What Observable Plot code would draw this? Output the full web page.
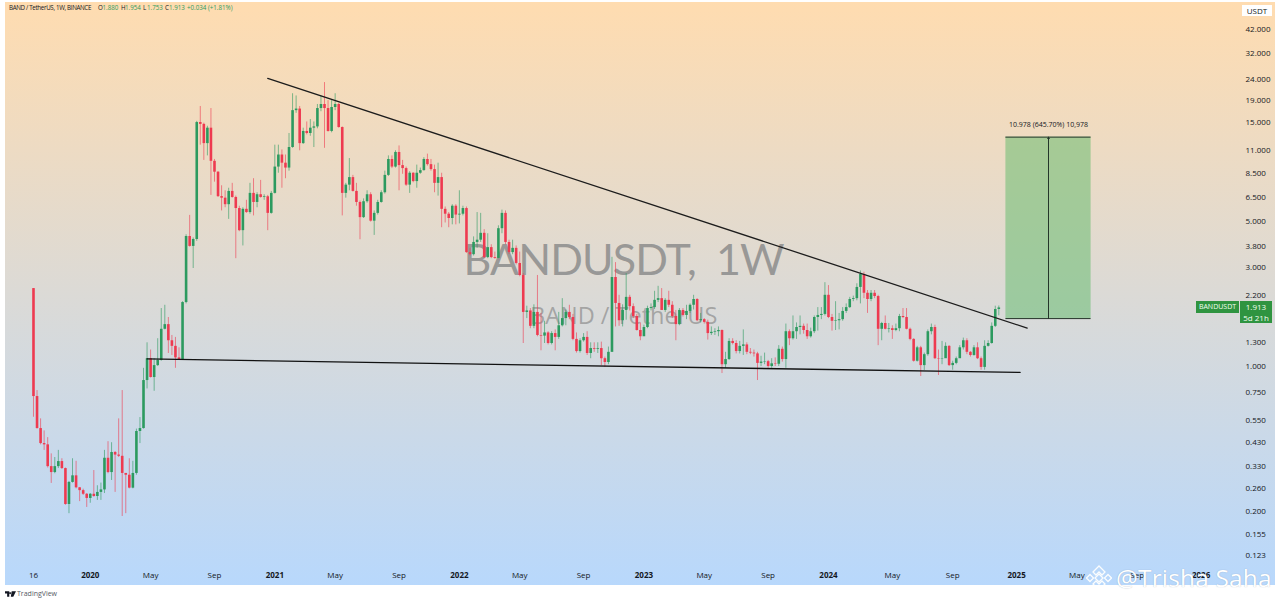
<!DOCTYPE html>
<html>
<head>
<meta charset="utf-8">
<script src="https://cdn.jsdelivr.net/npm/d3@7"></script>
<script src="https://cdn.jsdelivr.net/npm/@observablehq/plot@0.6"></script>
<style>
html,body{margin:0;padding:0;background:#fff;overflow:hidden}
#wrap{position:relative;width:1280px;height:602px;font-family:"Open Sans",sans-serif;color:#131722}
#wrap svg.overlay{position:absolute}
.lbl{position:absolute;white-space:nowrap;line-height:1}
.box{position:absolute;background:#2f9440;color:#f2fff2;font-size:8px;text-align:center;line-height:11px}
.wmBig text{white-space:pre;letter-spacing:-.9px}
</style>
</head>
<body>
<div id="wrap"></div>
<script>
// Weekly candles of BANDUSDT, first bar = week of 2019-09-16. Each open is the previous close.
const firstOpen = 2.37;
const closes = [
.717,.503,.426,.42,.33,.309,.33,.349,.323,.217,
.277,.298,.261,.253,.243,.232,.243,.237,.248,.255,
.362,.309,.386,.375,.37,.306,.30,.26,.306,.487,
.503,.856,1.09,.885,1.01,1.07,1.51,1.59,1.33,1.25,
1.10,1.08,2.03,4.22,3.78,4.08,14.9,14.6,11.8,14,
9.7,8.6,6.56,6.45,6.0,6.95,6.5,5.75,4.5,5.7,
5.5,6.8,6.15,6.7,6.5,6.55,5.45,6.8,9.1,10.4,
9.5,9.0,11.3,17,17.3,11.8,13.5,13.2,14,14.2,
17.4,18.2,17.4,13.5,17.6,18.2,14.1,6.8,7.45,8.1,
6.95,6.15,5.2,6.2,6.7,5.0,5.45,6.15,6.85,8.3,
9.9,9.1,10.7,9.25,8.95,7.45,8.5,7.75,8.5,8.75,
9.9,9.35,8.85,7.6,8.1,5.7,5.4,5.15,5.9,5.35,
5.4,5.75,3.53,3.45,3.95,4.05,4.37,3.34,3.73,3.34,
3.31,4.6,5.45,3.95,3.53,3.7,3.13,2.74,1.82,1.85,
1.56,1.82,1.41,1.40,1.45,1.29,1.44,1.38,1.57,1.70,
1.82,1.72,1.35,1.18,1.33,1.38,1.155,1.22,1.21,1.22,
1.09,1.045,1.17,2.68,2.01,1.66,1.86,2.15,1.94,1.74,
1.49,1.39,1.54,1.9,1.92,2.08,2.12,1.86,2.08,1.97,
1.74,1.59,1.86,1.76,1.84,1.97,2.1,1.66,1.68,1.63,
1.44,1.46,1.47,1.49,1.02,1.08,1.32,1.29,1.18,1.25,
1.27,1.17,1.16,1.15,1.035,1.05,1.055,1.0,1.03,1.025,
1.21,1.08,1.47,1.36,1.47,1.54,1.56,1.49,1.39,1.47,
1.72,1.76,1.78,2.2,1.72,1.65,1.66,1.68,1.84,1.92,
2.1,2.12,2.4,2.77,2.25,2.1,2.25,2.17,1.51,1.61,
1.51,1.52,1.49,1.52,1.74,1.72,1.51,1.35,1.06,1.23,
1.01,1.14,1.47,1.54,1.09,1.085,1.09,1.25,1.01,1.035,
1.09,1.23,1.33,1.17,1.13,1.23,1.09,.99,1.25,1.29,
1.56,1.88,1.913];
const highs = [
2.37,.766,.56,.49,.455,.38,.365,.395,.36,.325,
.28,.36,.35,.262,.257,.245,.245,.316,.267,.275,
.395,.435,.43,.39,.56,.766,.306,.36,.35,.5,
.568,.98,1.3,1.2,1.09,1.36,1.9,1.97,1.72,1.41,
1.38,1.23,2.05,4.3,5.33,4.15,15.1,17.8,14.8,14.3,
17.4,9.9,8.65,7.4,7.0,7.2,7.6,6.6,5.9,5.8,
6.3,7.6,8.0,6.85,7.85,6.7,6.65,6.95,11.6,11.6,
11,10.4,13.2,20.5,20,17.8,14,15,15.4,15,
18.2,20,23.2,19,19,20.5,18.4,14.2,7.6,10,
8.3,7.6,6.25,6.4,7.0,6.85,5.6,6.3,7,8.7,
10.3,10.3,10.9,11.5,9.8,9.1,8.65,8.55,9.3,9,
10.1,10.5,9.9,9.3,9.5,8.5,5.85,5.5,6,6,
7,5.9,5.85,3.7,4.2,5.5,5.45,4.55,4.35,3.85,
3.55,4.75,5.65,5.6,4.05,4.05,3.8,3.55,2.8,1.95,
1.9,1.98,2.74,1.8,1.65,1.47,1.47,1.5,1.82,2.12,
1.87,1.97,1.78,1.45,1.36,1.44,1.47,1.3,1.3,1.3,
1.31,1.11,1.24,3.35,3.16,2.2,1.98,2.8,2.2,2.0,
1.78,1.62,1.58,1.95,2.0,2.3,2.43,2.37,2.12,2.3,
2.05,1.86,1.9,1.9,1.97,2.0,2.2,2.12,1.8,1.7,
1.67,1.55,1.52,1.55,1.5,1.17,1.36,1.36,1.33,1.32,
1.5,1.3,1.22,1.2,1.17,1.12,1.16,1.07,1.09,1.1,
1.26,1.24,1.6,1.5,1.75,1.62,1.75,1.6,1.6,1.53,
1.75,1.92,1.92,2.53,2.45,1.78,2.05,1.8,1.92,2.0,
2.15,2.18,2.5,2.88,2.84,2.32,2.32,2.32,2.2,1.63,
1.75,1.61,1.57,1.6,1.78,1.9,1.9,1.53,1.36,1.25,
1.25,1.16,1.5,1.6,1.58,1.2,1.32,1.3,1.26,1.06,
1.11,1.26,1.37,1.36,1.18,1.26,1.3,1.11,1.33,1.33,
1.62,1.95,1.954];
const lows = [
.57,.5,.42,.395,.325,.274,.305,.323,.32,.215,
.196,.275,.258,.224,.24,.21,.22,.235,.227,.227,
.245,.305,.283,.248,.365,.19,.196,.258,.258,.30,
.426,.50,.78,.88,.76,1.0,1.06,1.5,1.155,1.13,
.98,1.07,1.07,2.0,3.75,2.96,4.0,11.6,9.8,10.3,
6.65,7.7,6.5,5.6,5.8,5.1,6.45,3.3,4.45,3.8,
5.45,5.4,5.3,5.8,6.45,6.3,4.5,5.4,6.75,8.5,
7.2,8.0,8.7,11.2,16.5,10.9,11.7,13,12.8,11.3,
13.9,16.8,11.2,13.4,13.3,17,14,5.3,6.45,7,
6.9,5.9,4.07,5.15,6.1,4.95,4.27,5.35,6.1,6.75,
8.2,8.95,9,7,8.4,7.35,6.8,7.65,7.2,8.4,
8.7,9.2,8.7,6.85,6.6,4.65,4.9,4.65,4.8,4.8,
4.85,5.3,3.5,3.4,3.4,3.7,3.95,3.3,3.3,3.3,
3.28,3.3,4.35,3.85,3.45,3.45,3.08,2.7,1.29,1.7,
1.52,1.52,1.39,1.19,1.29,1.27,1.27,1.19,1.35,1.55,
1.57,1.68,1.33,1.16,1.16,1.31,1.13,1.09,1.17,1.155,
1.01,.99,1.02,1.17,1.55,1.56,1.55,1.67,1.85,1.7,
1.48,1.33,1.45,1.52,1.85,1.88,2.03,1.86,1.82,1.92,
1.7,1.33,1.57,1.73,1.68,1.8,1.87,1.64,1.62,1.6,
1.34,1.41,1.41,1.39,.925,.98,1.07,1.27,1.15,1.15,
1.13,1.14,1.14,1.11,.856,1.0,1.02,.98,.98,1.0,
1.0,1.05,.98,1.26,1.34,1.35,1.42,1.43,1.35,1.37,
1.44,1.48,1.68,1.75,1.7,1.48,1.49,1.5,1.65,1.8,
1.9,2.05,2.07,2.0,2.12,1.8,2.05,2.12,1.26,1.33,
1.5,1.45,1.35,1.47,1.47,1.7,1.5,1.33,1.05,1.05,
.895,.957,1.12,1.42,1.08,.905,1.02,1.1,1.0,.96,
1.02,1.1,1.2,1.14,1.11,1.12,1.08,.96,.96,1.24,
1.28,1.54,1.753];

const yTicks = [42,32,24,19,15,11,8.5,6.5,5,3.8,3,2.2,1.3,1,.75,.55,.43,.33,.26,.2,.155,.123];
const minorDates = ["2019-09-16","2020-05-04","2020-09-07","2021-05-03","2021-09-06","2022-05-02","2022-09-05","2023-05-01","2023-09-04","2024-05-06","2024-09-02","2025-05-05","2025-09-01"];
const minorLabels = ["16","May","Sep","May","Sep","May","Sep","May","Sep","May","Sep","May","Sep"];
const yearDates = ["2020-01-06","2021-01-04","2022-01-03","2023-01-02","2024-01-01","2025-01-06","2026-01-05"];
const yearLabels = ["2020","2021","2022","2023","2024","2025","2026"];

// Drawn tools, in week number and price
const resistanceWeeks = [66,280], resistancePrices = [24.3,1.53];
const supportWeeks = [32,278], supportPrices = [1.087,0.936];
const targetWeeks = [274,298], targetPrices = [1.70,12.678], targetMidWeek = 286;
const targetLabel = "10.978 (645.70%) 10,978";
const watermarkBig = "BANDUSDT,  1W", watermarkSmall = "BAND / TetherUS";

const week = i => new Date(Date.UTC(2019, 8, 16 + 7 * i));
const parse = s => new Date(s + "T00:00:00Z");
const bars = closes.map((c, i) => ({
  t: week(i), open: i ? closes[i-1] : firstOpen, close: c, high: highs[i], low: lows[i]
}));
const UP = "#2c9a5f", DOWN = "#ee3a50";
const col = d => d.close >= d.open ? UP : DOWN;
const fmtMap = new Map(minorDates.map((d,i)=>[+parse(d),minorLabels[i]]));
const yrMap = new Map(yearDates.map((d,i)=>[+parse(d),yearLabels[i]]));

const chart = Plot.plot({
  width: 1280, height: 602,
  marginTop: 2, marginBottom: 34, marginLeft: 0, marginRight: 44,
  style: {
    background: "linear-gradient(#ffdcb0,#b8d8fc) 5px 2px / 1270px 583px no-repeat",
    fontFamily: '"Open Sans",sans-serif', color: "#131722", overflow: "visible"
  },
  x: {type: "utc", domain: [week(-8), week(339)], range: [4.6, 1236.1], axis: null},
  y: {type: "log", domain: [0.1068, 56.3], range: [568, 2], axis: null},
  marks: [
    Plot.text([watermarkBig], {x: () => week(166.3), y: () => 3.2, text: d => d, fontSize: 43, fontFamily: "Lato", fill: "#8c8c8c", fillOpacity: .85, textAnchor: "middle", lineAnchor: "middle", className: "wmBig"}),
    Plot.text([watermarkSmall], {x: () => week(166.3), y: () => 1.74, text: d => d, fontSize: 23.5, fill: "#8c8c8c", fillOpacity: .7, textAnchor: "middle", lineAnchor: "middle"}),
    Plot.ruleX(bars, {x: "t", y1: "low", y2: "high", stroke: col, strokeWidth: 1, strokeOpacity: .6}),
    Plot.ruleX(bars, {x: "t", y1: "open", y2: "close", stroke: col, strokeWidth: 2.6}),
    Plot.rect([0], {x1: () => week(targetWeeks[0]), x2: () => week(targetWeeks[1]), y1: () => targetPrices[0], y2: () => targetPrices[1], fill: "#5eba68", fillOpacity: .5}),
    Plot.ruleY(targetPrices, {x1: () => week(targetWeeks[0]), x2: () => week(targetWeeks[1]), y: d => d, stroke: "#24352a", strokeWidth: 1}),
    Plot.arrow([0], {x: () => week(targetMidWeek), y1: () => targetPrices[0], y2: () => targetPrices[1], stroke: "#24352a", strokeWidth: 1, headLength: 2.5, bend: 0}),
    Plot.text([targetLabel], {x: () => week(targetMidWeek), y: () => targetPrices[1], text: d => d, dy: -12, fontSize: 7, fill: "#131722", textAnchor: "middle"}),
    Plot.line(resistanceWeeks.map((w,i)=>({t: week(w), p: resistancePrices[i]})), {x: "t", y: "p", stroke: "#1c1c1c", strokeWidth: 1.3}),
    Plot.line(supportWeeks.map((w,i)=>({t: week(w), p: supportPrices[i]})), {x: "t", y: "p", stroke: "#111", strokeWidth: 1.3}),
    Plot.text(yTicks, {y: d => d, text: d => d.toFixed(3), frameAnchor: "right", dx: 9, textAnchor: "start", fontSize: 8, fill: "#131722"}),
    Plot.axisX(minorDates.map(parse), {anchor: "bottom", tickSize: 0, tickPadding: 4, tickFormat: d => fmtMap.get(+d), fontSize: 8, label: null, fill: "#131722"}),
    Plot.axisX(yearDates.map(parse), {anchor: "bottom", tickSize: 0, tickPadding: 4, tickFormat: d => yrMap.get(+d), fontSize: 8, fontWeight: 700, label: null, fill: "#131722"})
  ]
});
const wrap = document.getElementById("wrap");
wrap.appendChild(chart);

function lbl(text, x, y, size, color, extra){
  const s = document.createElement("span");
  s.className = "lbl"; s.textContent = text;
  s.style.cssText = `left:${x}px;top:${y}px;font-size:${size}px;color:${color};${extra||""}`;
  wrap.appendChild(s); return s;
}
// header
const headGreen = "#2e9a5f";
lbl("BAND / TetherUS, 1W, BINANCE", 9, 5, 6.2, "#131722", "letter-spacing:-.33px;");
[["O",98,"1.880",102.5],["H",121,"1.954",125],["L",143,"1.753",147],["C",165,"1.913",169]].forEach(([k,kx,v,vx])=>{
  lbl(k, kx, 5, 6.2, "#131722"); lbl(v, vx, 5, 6.2, headGreen);
});
lbl("+0.034 (+1.81%)", 187, 5, 6.2, headGreen);
// USDT box
lbl("USDT", 1242, 5, 8, "#131722", "background:#fff;width:30px;height:11px;line-height:11px;text-align:center;");
// price labels
const b1 = document.createElement("div"); b1.className="box"; b1.textContent="BANDUSDT";
b1.style.cssText="left:1196px;top:301px;width:43px;height:12px;font-size:7px;line-height:12px;";
wrap.appendChild(b1);
const b2 = document.createElement("div"); b2.className="box"; b2.innerHTML="1.913<br>5d 21h";
b2.style.cssText="left:1240px;top:301px;width:32px;height:22px;font-size:8px;line-height:11px;";
wrap.appendChild(b2);
// footer
wrap.insertAdjacentHTML("beforeend", `<svg class="overlay" style="left:5px;top:591px" width="11" height="6" viewBox="0 0 36 18"><path d="M0 0H14V18H7V7H0Z M22 0H36L27 18H19Z M17 3a3 3 0 1 0 .01 0" fill="#131722"/></svg>`);
lbl("TradingView", 17, 590, 7, "#555b66");
// user watermark
wrap.insertAdjacentHTML("beforeend", `<svg class="overlay" style="left:1086px;top:564px" width="26" height="28" viewBox="0 0 26 28" fill="none" stroke="#fff" stroke-width="1.3" opacity=".95"><path d="M13 10l4 4-4 4-4-4z"/><path d="M3 10.5l3.5 3.5L3 17.5-.5 14z" transform="translate(1 0)"/><path d="M23 10.5l3.5 3.5L23 17.5 19.5 14z" transform="translate(-1 0)"/><path d="M7 8l6-6 6 6-3 3-3-3-3 3z"/><path d="M7 20l6 6 6-6-3-3-3 3-3-3z"/></svg>`);
lbl("@Trisha Saha", 1116, 566, 24.4, "#fff", "letter-spacing:.2px;text-shadow:0 0 1px rgba(70,90,120,.45);");
</script>
</body>
</html>
